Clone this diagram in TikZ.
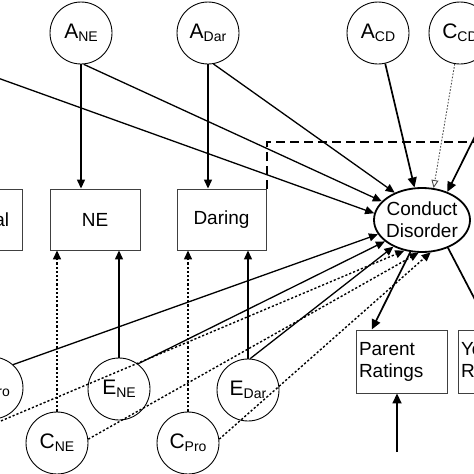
\documentclass[tikz,border=0pt]{standalone}
\usepackage{fontspec}
\setmainfont{Liberation Sans}
\usetikzlibrary{arrows.meta,shapes.geometric}
\newcommand\lab[2]{#1\raisebox{-3pt}{\fontsize{14}{14}\selectfont #2}}
\begin{document}
\begin{tikzpicture}[x=1pt,y=-1pt,
  lat/.style={circle,draw=black,line width=0.9pt,minimum size=62pt,inner sep=0pt,font=\fontsize{21}{21}\selectfont},
  obs/.style={rectangle,draw=black!75,line width=0.9pt,inner sep=0pt,minimum width=90pt,minimum height=61pt,font=\fontsize{19}{19}\selectfont},
  rat/.style={obs,minimum width=91pt,minimum height=63pt,text width=85pt,align=left,font=\fontsize{19}{22}\selectfont},
  tip/.style={-{Triangle[length=9pt,width=8pt]}},
  bigtip/.style={-{Triangle[length=10pt,width=9pt]}},
  sol/.style={line width=1.3pt,tip},
  solthick/.style={line width=1.7pt,bigtip},
  dotl/.style={line width=1.4pt,dash pattern=on 2.2pt off 2pt,tip},
  dotthin/.style={line width=0.9pt,draw=black!70,dash pattern=on 1.6pt off 1.6pt,-{Triangle[length=8pt,width=7pt,open,fill=white]}},
  boxdash/.style={line width=2.2pt,dash pattern=on 9pt off 5pt}]
\useasboundingbox (0,0) rectangle (474,474);
\clip (0,0) rectangle (474,474);
% latent variables
\node[lat] (ANE)  at (81,33)  {\lab{A}{NE}};
\node[lat] (ADar) at (208,33) {\lab{A}{Dar}};
\node[lat] (ACD)  at (378,33) {\lab{A}{CD}};
\node[lat] (CCD)  at (460,33) {\lab{C}{CD}};
\node[lat] (EPro) at (-8,388) {\lab{E}{Pro}};
\node[lat] (CNE)  at (57,443) {\lab{C}{NE}};
\node[lat] (ENE)  at (119,389) {\lab{E}{NE}};
\node[lat] (CPro) at (188,443) {\lab{C}{Pro}};
\node[lat] (EDar) at (248,390) {\lab{E}{Dar}};
\coordinate (APro) at (-30,68);
\coordinate (CLeft) at (-30,434);
\coordinate (ECD) at (501,84);
\coordinate (pe) at (397,452);
% observed
\node[obs,minimum width=104pt] (Pro) at (-30,219.5) {Prosocial};
\node[obs] (NE) at (95,219.5) {NE};
\node[obs,minimum width=89pt] (Daring) at (221.5,219.5) {Daring};
\node[ellipse,draw=black,line width=1.8pt,minimum width=96pt,minimum height=64pt,inner xsep=-3pt,inner ysep=0pt,align=center,font=\fontsize{19}{22}\selectfont] (CD) at (422,220) {Conduct\\Disorder};
\node[rat] (Parent) at (401.5,361.5) {Parent\\Ratings};
\node[rat] (Youth) at (503.5,361.5) {Youth\\Ratings};
% dashed frame
\draw[boxdash] (267,189) -- (267,142) -- (480,142);
% paths into phenotype boxes
\draw[sol] (ANE.south) -- (ANE.south |- NE.north);
\draw[sol] (ADar.south) -- (ADar.south |- Daring.north);
\draw[dotl] (CNE.north) -- (CNE.north |- NE.south);
\draw[sol] (ENE.north) -- (ENE.north |- NE.south);
\draw[dotl] (CPro.north) -- (CPro.north |- Daring.south);
\draw[sol] (EDar.north) -- (EDar.north |- Daring.south);
% paths into conduct disorder, upper
\draw[sol] (APro) -- (CD.172);
\draw[sol] (ANE.275) -- (CD.155);
\draw[sol] (ADar.280) -- (CD.135);
\draw[solthick] (ACD) -- (CD.103);
\draw[dotthin] (CCD) -- (CD.70);
\draw[solthick] (ECD) -- (CD.48);
% lower
\draw[sol] (EPro.48) -- (CD.198);
\draw[sol] (ENE.53) -- (CD.210);
\draw[sol] (EDar.86) -- (CD.223);
\draw[dotl] (CLeft) -- (CD.240);
\draw[dotl] (CNE.7) -- (CD.264);
\draw[dotl] (CPro.7) -- (CD.285);
% ratings
\draw[solthick] (CD.250) -- (Parent.133);
\draw[solthick] (CD.313) -- (Youth.112);
\draw[solthick] (pe) -- (pe |- Parent.south);
\end{tikzpicture}
\end{document}
